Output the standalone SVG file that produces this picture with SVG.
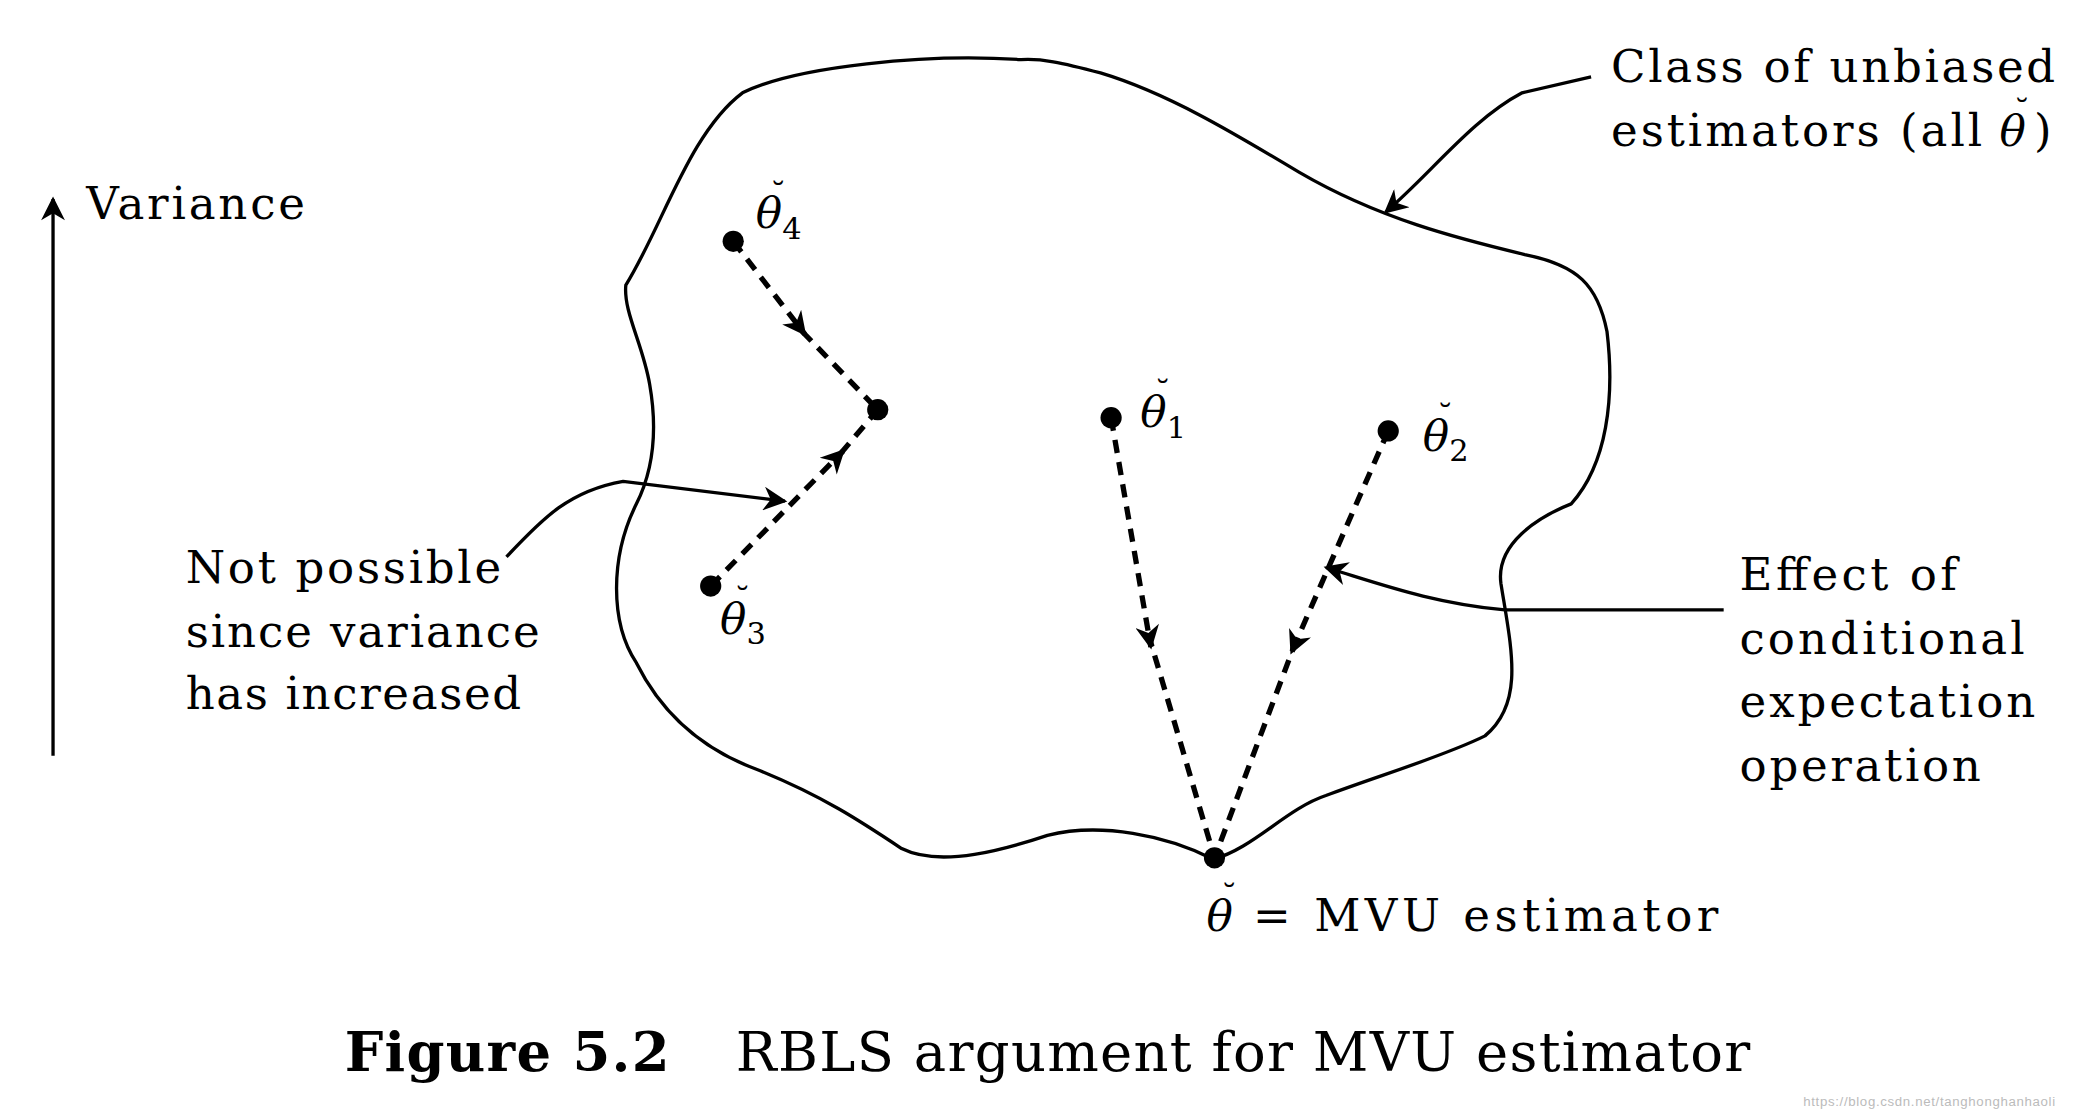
<svg xmlns="http://www.w3.org/2000/svg" width="2079" height="1115" viewBox="0 0 2079 1115">
<defs>
<marker id="ah2" viewBox="0 0 10 10" refX="9" refY="5" markerWidth="22" markerHeight="18" markerUnits="userSpaceOnUse" orient="auto"><path d="M0,0 L10,5 L0,10 L3,5 z" fill="#000"/></marker>
<style>
text{font-family:"DejaVu Serif","Liberation Serif",serif;fill:#000}
.t{font-size:34px}
.th{font-size:33px;font-style:italic}
.br{font-size:24px}
.sub{font-size:23px}
.d{stroke:#000;stroke-width:4;stroke-dasharray:10 7;fill:none}
.s{stroke:#000;stroke-width:2.5;fill:none}
</style>
</defs>
<rect width="2079" height="1115" fill="#fff"/>
<g transform="scale(1.3259)">
<g id="region">
<path class="s" d="M770,45 C700,40 600,50 560,70 C520,100 500,170 472,215 C470,235 485,260 490,290 C497,330 490,360 480,380 C460,420 460,470 480,500 C500,540 530,565 570,580 C620,600 650,620 680,640 C710,655 760,640 790,630 C830,620 880,630 915,648 C945,640 970,610 1000,600 C1040,585 1090,570 1120,555 C1150,530 1140,490 1132,440 C1128,410 1160,390 1185,380 C1212,350 1218,300 1212,250 C1205,215 1190,200 1150,192 C1100,180 1040,165 980,130 C930,100 880,70 830,55 C800,47 785,44 770,45 Z"/>
</g>
<g id="axis">
<path class="s" d="M40,570 L40,150" marker-end="url(#ah2)"/>
<text class="t" x="65" y="165" textLength="165">Variance</text>
</g>
<g id="connectors">
<path class="d" d="M553,182 L607,252" marker-end="url(#ah2)"/>
<path class="d" d="M605,250 L662,309"/>
<path class="d" d="M536,442 L636,340" marker-end="url(#ah2)"/>
<path class="d" d="M634,342 L662,309"/>
<path class="d" d="M838,315 L868,488" marker-end="url(#ah2)"/>
<path class="d" d="M866,478 L916,647"/>
<path class="d" d="M1047,325 L974,492" marker-end="url(#ah2)"/>
<path class="d" d="M978,482 L916,647"/>
<path class="s" d="M1200,58 L1148,70 C1110,90 1080,130 1045,160" marker-end="url(#ah2)"/>
<path class="s" d="M382,420 C410,390 430,370 470,363 L592,378" marker-end="url(#ah2)"/>
<path class="s" d="M1300,460 L1135,460 C1080,455 1040,440 1000,428" marker-end="url(#ah2)"/>
</g>
<g id="points">
<circle cx="553" cy="182" r="8"/>
<circle cx="662" cy="309" r="8"/>
<circle cx="536" cy="442" r="8"/>
<circle cx="838" cy="315" r="8"/>
<circle cx="1047" cy="325" r="8"/>
<circle cx="916" cy="647" r="8"/>
<text class="th" x="570" y="172">θ</text><text class="br" x="581" y="155">˘</text><text class="sub" x="590" y="180">4</text>
<text class="th" x="860" y="322">θ</text><text class="br" x="871" y="305">˘</text><text class="sub" x="880" y="330">1</text>
<text class="th" x="1073" y="340">θ</text><text class="br" x="1084" y="323">˘</text><text class="sub" x="1093" y="348">2</text>
<text class="th" x="543" y="478">θ</text><text class="br" x="554" y="461">˘</text><text class="sub" x="563" y="486">3</text>
<text class="th" x="910" y="702">θ</text><text class="br" x="921" y="685">˘</text>
<text class="t" x="945" y="702" textLength="351">= MVU estimator</text>
</g>
<g id="labels">
<text class="t" x="1215" y="62" textLength="335">Class of unbiased</text>
<text class="t" x="1215" y="110" textLength="280">estimators (all</text>
<text class="th" x="1508" y="110">θ</text><text class="br" x="1519" y="93">˘</text>
<text class="t" x="1534" y="110">)</text>
<text class="t" x="140" y="440" textLength="238">Not possible</text>
<text class="t" x="140" y="488" textLength="267">since variance</text>
<text class="t" x="140" y="535" textLength="253">has increased</text>
<text class="t" x="1312" y="445" textLength="164">Effect of</text>
<text class="t" x="1312" y="493" textLength="215">conditional</text>
<text class="t" x="1312" y="541" textLength="223">expectation</text>
<text class="t" x="1312" y="589" textLength="182">operation</text>
<text x="260" y="808" font-size="41" font-weight="bold" textLength="245">Figure 5.2</text>
<text x="555" y="808" font-size="41" textLength="765">RBLS argument for MVU estimator</text>
<text x="1360" y="834" font-size="10" textLength="190" style="fill:#bbb;font-family:'Liberation Sans',sans-serif">https://blog.csdn.net/tanghonghanhaoli</text>
</g>
</g>
</svg>
